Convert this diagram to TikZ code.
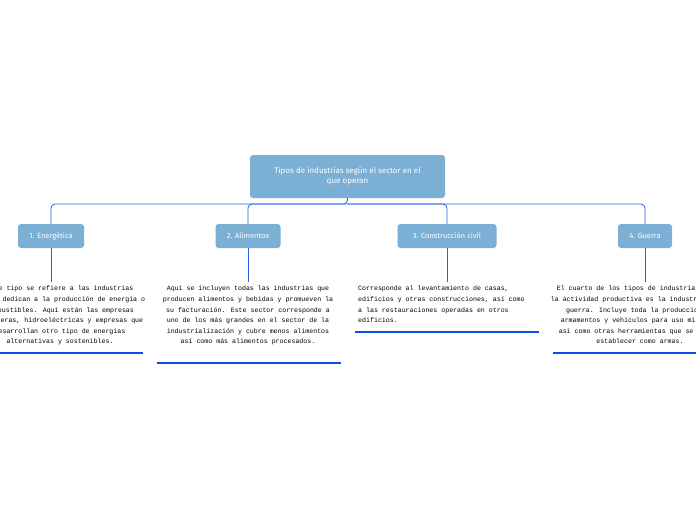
\documentclass[tikz,border=0pt]{standalone}
\usepackage{fontspec}
\setmainfont{Liberation Mono}
\newfontfamily\hdfont{Fira Sans}
\definecolor{boxb}{HTML}{7BAFD4}
\definecolor{lineb}{HTML}{2E5BE8}
\definecolor{ulb}{HTML}{0B4FE0}
\begin{document}
\begin{tikzpicture}[x=1pt,y=-1pt,
 topic/.style={fill=boxb,rounded corners=3pt,text=white,font=\hdfont\fontsize{8}{10}\selectfont,align=center},
 sub/.style={fill=boxb,rounded corners=3pt,text=white,font=\hdfont\fontsize{7.5}{9}\selectfont,minimum height=24pt,inner xsep=5pt},
 desc/.style={font=\fontsize{6.6}{10.6}\selectfont,text=black,inner sep=0pt},
 conn/.style={draw=lineb,line width=0.8pt,rounded corners=4pt},
 ul/.style={draw=ulb,line width=2.6pt}]
\useasboundingbox (0,0) rectangle (696,520);
\clip (0,0) rectangle (696,520);
\node[topic,minimum width=195pt,minimum height=43pt] (root) at (347.5,176.5) {Tipos de industrias según el sector en el\\que operan};
\node[sub,minimum width=66pt] (c1) at (51,236) {1. Energética};
\node[sub,minimum width=65pt] (c2) at (248,236) {2. Alimentos};
\node[sub,minimum width=99pt] (c3) at (447,236) {3. Construcción civil};
\node[sub,minimum width=54pt] (c4) at (645,236) {4. Guerra};
\coordinate (h) at (347.5,204);
\draw[conn] (root.south) -- (h) -| (c1.north);
\draw[conn] (h) -| (c2.north);
\draw[conn] (h) -| (c3.north);
\draw[conn] (h) -| (c4.north);
\node[desc,align=center,anchor=north] (t1) at (60,286) {Este tipo se refiere a las industrias\\que se dedican a la producción de energía o\\combustibles. Aquí están las empresas\\petroleras, hidroeléctricas y empresas que\\desarrollan otro tipo de energías\\alternativas y sostenibles.};
\node[desc,align=center,anchor=north] (t2) at (248,286) {Aquí se incluyen todas las industrias que\\producen alimentos y bebidas y promueven la\\su facturación. Este sector corresponde a\\uno de los más grandes en el sector de la\\industrialización y cubre menos alimentos\\así como más alimentos procesados.};
\node[desc,align=left,anchor=north west] (t3) at (358,286) {Corresponde al levantamiento de casas,\\edificios y otras construcciones, así como\\a las restauraciones operadas en otros\\edificios.};
\node[desc,align=center,anchor=north] (t4) at (640,286) {El cuarto de los tipos de industrias según\\la actividad productiva es la industria de la\\guerra. Incluye toda la producción de\\armamentos y vehículos para uso militar,\\así como otras herramientas que se pueden\\establecer como armas.};
\draw[conn] (c1.south) -- (c1.south |- 0,282);
\draw[conn] (c2.south) -- (c2.south |- 0,282);
\draw[conn] (c3.south) -- (c3.south |- 0,282);
\draw[conn] (c4.south) -- (c4.south |- 0,282);
\draw[ul] (0,353) -- (143,353);
\draw[ul] (157,363) -- (341,363);
\draw[ul] (355,332) -- (539,332);
\draw[ul] (553,353) -- (696,353);
\end{tikzpicture}
\end{document}
